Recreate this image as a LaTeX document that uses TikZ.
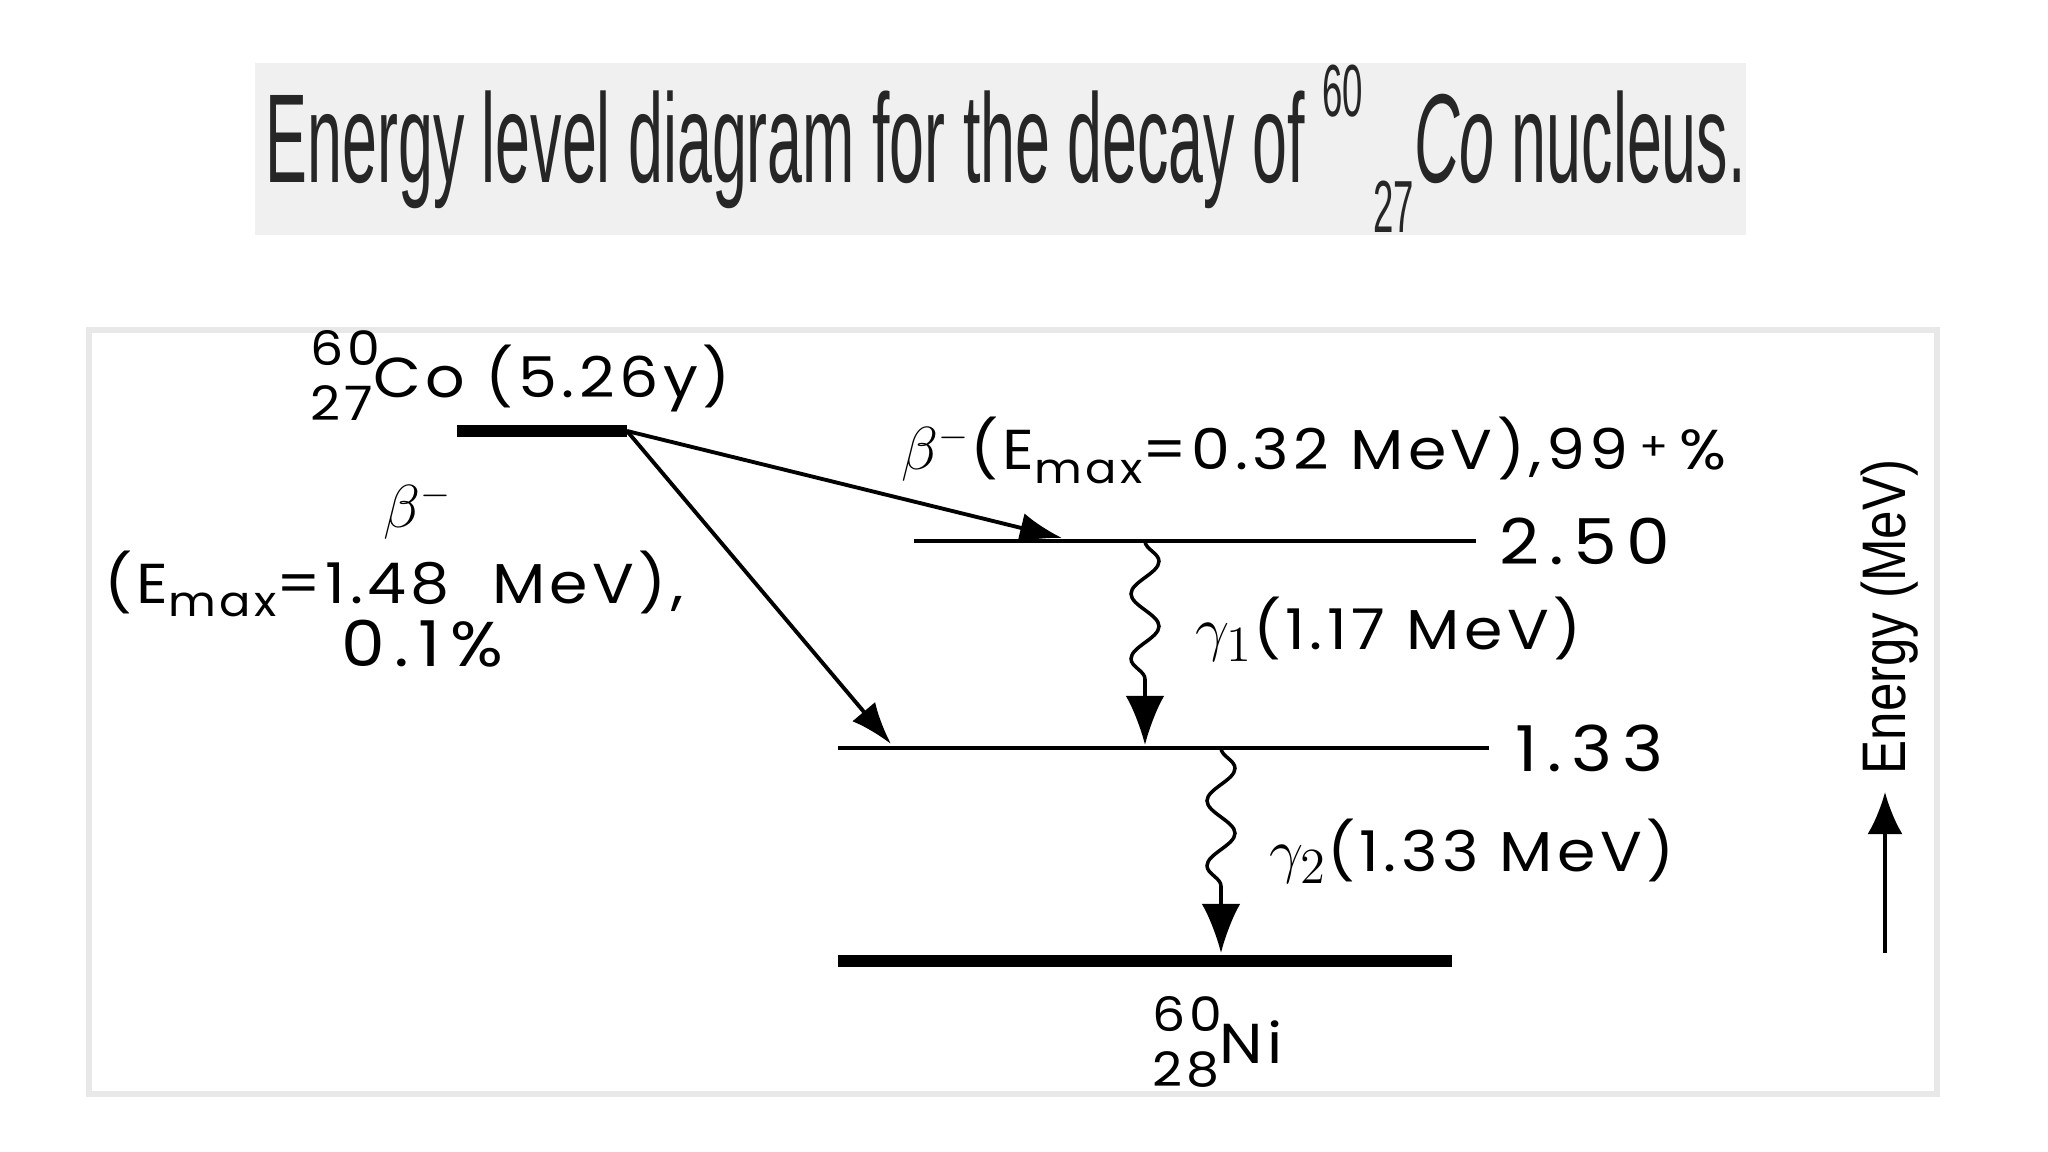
\documentclass[tikz,border=0pt]{standalone}
\usepackage{amsmath}
\usepackage{fontspec}
\setmainfont{Poppins}[FakeStretch=1.1, LetterSpace=8]
\newfontfamily\headfont{Liberation Sans}
\usetikzlibrary{arrows.meta, decorations.pathmorphing, positioning}

\definecolor{bandgray}{HTML}{F0F0F0}
\definecolor{framegray}{HTML}{E8E8E8}
\definecolor{inkgray}{HTML}{262626}

\newcommand{\Emax}{E\raisebox{-0.45ex}{\fontsize{12}{12}\selectfont max}}
\newcommand{\nuc}[3]{\rlap{\raisebox{9.3pt}{\fontsize{13.5}{13.5}\selectfont #1}}%
  \raisebox{-6.3pt}{\fontsize{13.5}{13.5}\selectfont #2}#3}

\begin{document}
\begin{tikzpicture}
  \tikzset{
    lbl/.style={inner sep=0pt, font=\fontsize{16}{19}\selectfont},
    numlbl/.style={inner sep=0pt, font=\fontsize{18}{20}\selectfont\addfontfeatures{LetterSpace=15}},
    thin level/.style={line width=1.1pt},
    thick level/.style={line width=3.5pt},
    beta/.style={line width=1.1pt, -{Latex[length=12pt,width=8.5pt]}},
    axis/.style={line width=1.1pt, -{Latex[length=12pt,width=10pt]}},
    gamma/.style={line width=1pt, -{Latex[length=14pt,width=11pt]}, decorate,
      decoration={snake, amplitude=1.4mm, segment length=6.5mm, post length=5.5mm}},
  }
  \useasboundingbox (0,0) rectangle (20.48,11.52);
  % title band
  \fill[bandgray] (2.55,9.17) rectangle (17.46,10.89);
  \node[anchor=base west, inner sep=0pt, text=inkgray] (title) at (2.65,9.69)
    {\resizebox{14.8cm}{\height}{\headfont\fontsize{36}{40}\selectfont Energy level diagram for the decay of
      \raisebox{19pt}{\fontsize{21}{21}\selectfont 60}\,\raisebox{-14pt}{\fontsize{21}{21}\selectfont 27}\textit{Co} nucleus.}};
  % panel
  \draw[framegray, line width=1.5pt, fill=white] (0.89,0.58) rectangle (19.37,8.22);

  % levels
  \coordinate (co-l) at (4.57,7.21);
  \coordinate (co-r) at (6.27,7.21);
  \coordinate (l2-l) at (9.14,6.11);
  \coordinate (l2-r) at (14.76,6.11);
  \coordinate (l1-l) at (8.38,4.04);
  \coordinate (l1-r) at (14.89,4.04);
  \coordinate (ni-l) at (8.38,1.91);
  \coordinate (ni-r) at (14.52,1.91);
  \draw[thick level] (co-l) -- (co-r);
  \draw[thin level] (l2-l) -- (l2-r);
  \draw[thin level] (l1-l) -- (l1-r);
  \draw[thick level] (ni-l) -- (ni-r);

  \node[numlbl, right=2.3mm of l2-r] (e2) {2.50};
  \node[numlbl, right=2.6mm of l1-r] (e1) {1.33};

  % nuclides
  \node[lbl, anchor=base west] (co-lbl) at (3.10,7.54) {\nuc{60}{27}{Co} (5.26y)};
  \node[lbl, anchor=base west] (ni-lbl) at (11.52,0.88) {\nuc{60}{28}{Ni}};

  % beta branches
  \coordinate (b1-end) at (10.62,6.14);
  \coordinate (b2-end) at (8.91,4.08);
  \draw[beta] (co-r) -- (b1-end);
  \draw[beta] (co-r) -- (b2-end);
  \node[lbl, anchor=base west] (b1-lbl) at (9.01,6.82)
    {$\beta^{-}$(\Emax=0.32 MeV),99\kern3pt\raisebox{0.3ex}{\fontsize{11}{11}\selectfont+}\kern3pt\%};
  \node[lbl] (b2-sym) at (4.18,6.41) {$\beta^{-}$};
  \node[lbl] (b2-emax) at (3.94,5.68) {(\Emax=1.48\ \ MeV),};
  \node[numlbl] (b2-pct) at (4.22,5.08) {0.1\%};

  % gamma transitions
  \coordinate (g1-top) at (11.45,6.11);
  \coordinate (g1-end) at (11.45,4.07);
  \coordinate (g2-top) at (12.21,4.04);
  \coordinate (g2-end) at (12.21,1.99);
  \draw[gamma] (g1-top) -- (g1-end);
  \draw[gamma] (g2-top) -- (g2-end);
  \node[lbl, anchor=base west] (g1-lbl) at (11.95,5.02) {{\fontsize{19}{20}\selectfont$\gamma_1$}(1.17 MeV)};
  \node[lbl, anchor=base west] (g2-lbl) at (12.69,2.80) {{\fontsize{19}{20}\selectfont$\gamma_2$}(1.33 MeV)};

  % energy axis
  \coordinate (en-tail) at (18.85,1.99);
  \coordinate (en-tip) at (18.85,3.60);
  \draw[axis] (en-tail) -- (en-tip);
  \node[inner sep=0pt, rotate=90, font=\headfont\fontsize{17.5}{20}\selectfont] (en-lbl) at (18.90,5.35)
    {\scalebox{0.83}[1]{Energy (MeV)}};
\end{tikzpicture}
\end{document}
